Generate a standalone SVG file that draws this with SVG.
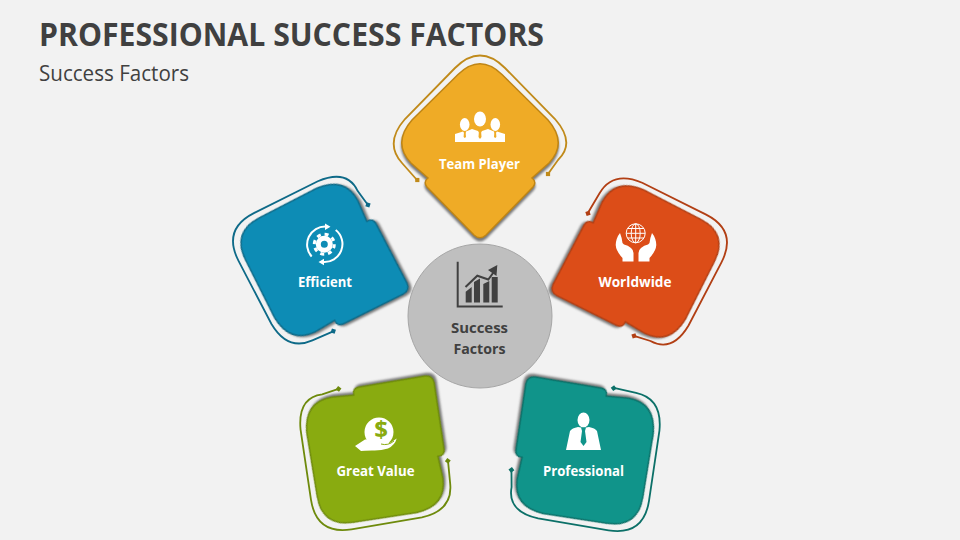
<svg xmlns="http://www.w3.org/2000/svg" xmlns:xlink="http://www.w3.org/1999/xlink" width="960" height="540" viewBox="0 0 960 540">
<style>
text{font-family:"Open Sans","Liberation Sans",sans-serif;font-weight:700;text-anchor:middle}
.lbl{font-size:14px;fill:#fff}
.arc{fill:none;stroke-width:1.8}
.w{fill:#fff}
.ws{fill:none;stroke:#fff}
</style>
<defs>
<filter id="sh" x="-20%" y="-20%" width="140%" height="140%" color-interpolation-filters="sRGB">
<feGaussianBlur in="SourceAlpha" stdDeviation="1.3"/>
<feOffset dx="0" dy="2.5"/>
<feComponentTransfer><feFuncA type="linear" slope="0.5"/></feComponentTransfer>
<feMerge><feMergeNode/><feMergeNode in="SourceGraphic"/></feMerge>
</filter>
<path id="card" d="M458,74.5 Q480,53 502,74.5 L548,120 Q568,143 549,163 L532,178 Q537,182 533,187 L486,235 Q480,240.5 474,235 L427,187 Q423,182 428,178 L411,163 Q392,143 412,120 Z"/>
<path id="trail" d="M417,180 L402,163 Q384,143 405,119 L455,68 Q480,43 505,68 L555,119 Q576,143 558,160 L548,174"/>
<rect id="tip" x="-2.1" y="-2.1" width="4.2" height="4.2"/>
</defs>
<rect width="960" height="540" fill="#f2f2f2"/>
<text x="39" y="46" textLength="505" lengthAdjust="spacingAndGlyphs" style="font-size:32px;text-anchor:start;fill:#404040">PROFESSIONAL SUCCESS FACTORS</text>
<text x="39" y="80.5" textLength="150" lengthAdjust="spacingAndGlyphs" style="font-size:21.5px;font-weight:400;text-anchor:start;fill:#404040">Success Factors</text>

<g id="connectors">
<g stroke="#c08a1a" fill="#c08a1a"><use xlink:href="#trail" href="#trail" class="arc"/><use href="#tip" xlink:href="#tip" x="417.3" y="180" stroke="none"/><use href="#tip" xlink:href="#tip" x="548" y="174" stroke="none"/></g>
<g transform="translate(-2 -1) rotate(72 480 316)" stroke="#b23f14" fill="#b23f14"><use href="#trail" xlink:href="#trail" class="arc"/><use href="#tip" xlink:href="#tip" x="417.3" y="180" stroke="none"/><use href="#tip" xlink:href="#tip" x="548" y="174" stroke="none"/></g>
<g transform="translate(3 -1) rotate(144 480 316)" stroke="#0c7068" fill="#0c7068"><use href="#trail" xlink:href="#trail" class="arc"/><use href="#tip" xlink:href="#tip" x="417.3" y="180" stroke="none"/><use href="#tip" xlink:href="#tip" x="548" y="174" stroke="none"/></g>
<g transform="translate(-3 -2) rotate(-144 480 316)" stroke="#6e8a0c" fill="#6e8a0c"><use href="#trail" xlink:href="#trail" class="arc"/><use href="#tip" xlink:href="#tip" x="417.3" y="180" stroke="none"/><use href="#tip" xlink:href="#tip" x="548" y="174" stroke="none"/></g>
<g transform="translate(2 -2.5) rotate(-72 480 316)" stroke="#0e6a88" fill="#0e6a88"><use href="#trail" xlink:href="#trail" class="arc"/><use href="#tip" xlink:href="#tip" x="417.3" y="180" stroke="none"/><use href="#tip" xlink:href="#tip" x="548" y="174" stroke="none"/></g>
</g>

<g id="node-team-player">
<use href="#card" xlink:href="#card" fill="#efab26" stroke="#bf8515" stroke-width="1.5" filter="url(#sh)"/>
<path class="w" d="M455,142 V134 L463,131.5 L465,134 L466,131.5 L472,129 L478,131 L480,134 L482,131 L488,129 L494,131.5 L495,134 L497,131.5 L505,134 V142 Z"/>
<ellipse class="w" cx="480" cy="119" rx="6" ry="7.5"/>
<ellipse class="w" cx="464.7" cy="124.5" rx="4.8" ry="6.5"/>
<ellipse class="w" cx="495.3" cy="124.5" rx="4.8" ry="6.5"/>
<path d="M479,130 H481 L481.5,137 L480,139 L478.5,137 Z M464,132 H465.6 L466,137 L464.8,138 L463.6,137 Z M494.4,132 H496 L496.4,137 L495.2,138 L494,137 Z" fill="#efab26"/>
<text class="lbl" x="479.5" y="168.5" textLength="81" lengthAdjust="spacingAndGlyphs">Team Player</text>
</g>

<g id="node-worldwide">
<use href="#card" xlink:href="#card" transform="translate(-2 -1) rotate(72 480 316)" fill="#dc4d18" stroke="#b23f14" stroke-width="1.5" filter="url(#sh)"/>
<g class="ws" stroke-width="1"><circle cx="635.7" cy="233.3" r="9.5"/><ellipse cx="635.7" cy="233.3" rx="4.5" ry="9.5"/><path d="M635.7,223.8 V242.8 M626.2,233.3 H645.2 M627.5,228.5 H644 M627.5,238 H644"/></g>
<path class="w" d="M620,233 Q622,238 622.5,243 L624,244.5 Q628,245 631,248 Q633.5,250 633.5,253 V261.5 H622.5 V258 Q616,251 615.7,245 Q616,238 620,233 Z"/>
<path class="w" d="M652,233 Q650,238 649.5,243 L648,244.5 Q644,245 641,248 Q638.5,250 638.5,253 V261.5 H649.5 V258 Q656,251 656.3,245 Q656,238 652,233 Z"/>
<text class="lbl" x="635" y="287" textLength="73" lengthAdjust="spacingAndGlyphs">Worldwide</text>
</g>

<g id="node-professional">
<use href="#card" xlink:href="#card" transform="translate(3 -1) rotate(144 480 316)" fill="#10948a" stroke="#0c7068" stroke-width="1.5" filter="url(#sh)"/>
<ellipse class="w" cx="583.5" cy="420" rx="6" ry="7.5"/>
<path class="w" d="M566,450 L570,431 Q572,428 578,427 L583.5,428 L589,427 Q595,428 597,431 L601,450 Z"/>
<path d="M581,427.5 H586 L585,431 L586.5,442 L583.5,446 L580.5,442 L582,431 Z" fill="#10948a"/>
<text class="lbl" x="583.5" y="476" textLength="81" lengthAdjust="spacingAndGlyphs">Professional</text>
</g>

<g id="node-great-value">
<use href="#card" xlink:href="#card" transform="translate(-3 -2) rotate(-144 480 316)" fill="#89ab10" stroke="#6e8a0c" stroke-width="1.5" filter="url(#sh)"/>
<circle class="w" cx="379" cy="432" r="14.5"/>
<text x="381" y="438" style="font-size:24px;fill:#89ab10">$</text>
<path class="w" d="M355,446 L365,439.5 Q376,438 385,441.5 L390,443 L396.7,438.5 Q395,445 388,448.5 Q380,451 372,450.5 L365,450.7 L361,451 Z"/>
<path d="M381,444 Q388,446 394,441" fill="none" stroke="#89ab10" stroke-width="1"/>
<text class="lbl" x="375.5" y="476" textLength="78" lengthAdjust="spacingAndGlyphs">Great Value</text>
</g>

<g id="node-efficient">
<use href="#card" xlink:href="#card" transform="translate(2 -2.5) rotate(-72 480 316)" fill="#0d8cb5" stroke="#0e6a88" stroke-width="1.5" filter="url(#sh)"/>
<circle class="ws" cx="324.3" cy="244.3" r="6" stroke-width="5"/>
<circle class="ws" cx="324.3" cy="244.3" r="10" stroke-width="3" stroke-dasharray="4 3.85"/>
<path class="ws" stroke-width="2" d="M311.7,256.5 A18,18 0 0 1 326,226.5 M335.7,230 A18,18 0 0 1 323,262"/>
<path class="w" d="M330.5,226.7 L325,223.5 L325,230 Z M318.5,262 L324,258.8 L324,265.2 Z"/>
<text class="lbl" x="325" y="287" textLength="54" lengthAdjust="spacingAndGlyphs">Efficient</text>
</g>

<g id="node-center">
<circle cx="480" cy="316" r="72" fill="#bfbfbf" stroke="#a6a6a6"/>
<path d="M457.7,261.7 V306.5 H502.7" fill="none" stroke="#404040" stroke-width="2"/>
<path fill="#404040" d="M465.7,291.7 L471.7,287 V302.5 H465.7 Z M474,282 L480,278.5 V302.5 H474 Z M483.3,284 L489.3,281 V302.5 H483.3 Z M491.7,277 H497.7 V302.5 H491.7 Z"/>
<path d="M465.5,287 L477.3,275.7 L488.3,279.5 L494.5,271" fill="none" stroke="#404040" stroke-width="2"/>
<path fill="#404040" d="M497.3,265 L496.5,276 L488,270 Z"/>
<text x="479.5" y="332.5" textLength="57" lengthAdjust="spacingAndGlyphs" style="font-size:15px;fill:#404040">Success</text>
<text x="479.5" y="353.5" textLength="52" lengthAdjust="spacingAndGlyphs" style="font-size:15px;fill:#404040">Factors</text>
</g>
</svg>
